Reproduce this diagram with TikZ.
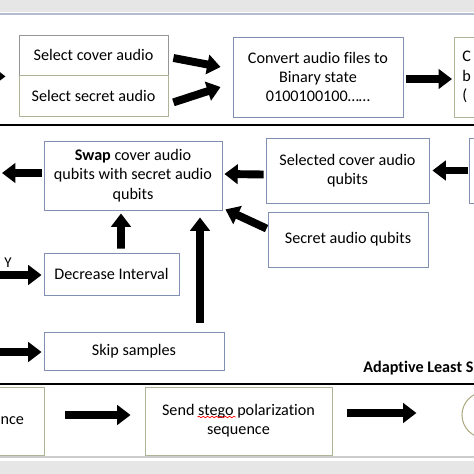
\documentclass[tikz,border=0pt]{standalone}
\usepackage{fontspec}
\setmainfont{Carlito}[Ligatures=NoCommon]
\usepackage{tikz}
\usetikzlibrary{positioning,calc,arrows.meta,decorations.pathmorphing}
\definecolor{bordbleu}{RGB}{128,143,178}
\definecolor{bordvert}{RGB}{172,182,150}
\definecolor{bordgris}{RGB}{150,150,150}
\definecolor{fondgris}{RGB}{230,230,230}
\def\px{0.02cm}
\tikzset{
	boite/.style={draw=bordbleu,line width=0.5pt,inner sep=0pt,align=center,font=\fontsize{9.2}{11}\selectfont},
	sz/.style 2 args={minimum width=#1*\px,minimum height=#2*\px},
	grosse/.style={line width=4.5pt,-{Triangle[length=7.6pt,width=11pt]}}
}

\begin{document}
\begin{tikzpicture}[x=\px,y=-\px]
	\useasboundingbox (0,0) rectangle (474,474);
	\clip (0,0) rectangle (474,474); % on coupe l'image
	
	%Bandes et separations
	\fill[fondgris] (0,0) rectangle (474,12);
	\draw[bordbleu!60,line width=0.6pt] (0,14) -- (474,14);
	\fill[fondgris] (0,461) rectangle (474,474);
	\draw[black!20,line width=0.6pt] (0,457) -- (474,457);
	\draw[line width=1.2pt] (0,125) -- (474,125);
	\draw[line width=1.2pt] (0,384) -- (474,384);
	
	%Boites du haut
	\node[boite,draw=bordgris,sz={149}{40}] (selcov) at (93.5,55) {Select cover audio};
	\node[boite,draw=bordvert,sz={149}{41},below=0pt of selcov] (selsec) {Select secret audio};
	\node[boite,sz={170}{80}] (conv) at (318,77) {Convert audio files to\\Binary state\\0100100100……};
	\node[boite,draw=bordvert,sz={100}{80},text width=1.68cm,inner xsep=0.16cm,align=left,anchor=west] (outtop) at (454,77) {C\\b\\(};
	
	%Boites du milieu
	\node[boite,sz={178}{69}] (swap) at (133,175.5) {\textbf{Swap} cover audio\\qubits with secret audio\\qubits};
	\node[boite,sz={163}{65}] (selq) at (347.5,170.5) {Selected cover audio\\qubits};
	\node[boite,sz={160}{55}] (secq) at (348,239.5) {Secret audio qubits};
	\node[boite,sz={100}{65},anchor=west] (outmid) at (469,170.5) {};
	\node[boite,sz={135}{42}] (decr) at (111.5,274) {Decrease Interval};
	\node[boite,sz={180}{38}] (skip) at (134,351) {Skip samples};
	\node[font=\fontsize{9.2}{11}\selectfont\bfseries,anchor=west,inner sep=0pt] (titre) at (363,368) {Adaptive Least S};
	\node[font=\fontsize{8.5}{10}\selectfont,inner sep=0pt] (lblY) at (8,263) {Y};
	
	%Boites du bas
	\node[boite,draw=bordvert,sz={104}{68},text width=1.28cm,inner xsep=0.4cm,align=right] (seqg) at (-8,421) {nce};
	\node[boite,draw=bordvert,sz={187}{68}] (send) at (238.5,421) {Send stego polarization\\sequence};
	\node[draw=bordvert!80!brown,line width=0.6pt,circle,minimum size=46*\px,inner sep=0pt] (fin) at (485,415) {};
	\draw[red,line width=0.4pt,decorate,decoration={snake,amplitude=0.4pt,segment length=2.5pt}] ($(send.center)+(-41,-4)$) -- ($(send.center)+(-3,-4)$);
	
	%Fleches
	\coordinate (entH) at (-30,76);
	\coordinate (sortG) at (2,173);
	\coordinate (entY) at (-5,275);
	\coordinate (entS) at (-5,352);
	
	\draw[grosse] (entH) -- ($(selcov.south west)+(-13,1)$);
	\draw[grosse] ($(selcov.east)+(5,3)$) -- ($(conv.west)+(-12,-10)$);
	\draw[grosse] ($(selsec.east)+(5,6)$) -- ($(conv.west)+(-12,10)$);
	\draw[grosse] ($(conv.east)+(3,2)$) -- ($(outtop.west)+(-2,2)$);
	
	\draw[grosse] ($(outmid.west)+(-1,0)$) -- ($(selq.east)+(3,0)$);
	\draw[grosse] ($(selq.west)+(-2,4)$) -- ($(swap.east)+(2,-1.5)$);
	\draw[grosse] ($(secq.north west)+(-1,17)$) -- ($(swap.south east)+(3,-1)$);
	\draw[grosse] ($(swap.west)+(-2,-2.5)$) -- (sortG);
	\draw[grosse] ($(decr.north)+(9.5,-4)$) -- ($(swap.south)+(-12,3)$);
	\draw[grosse] ($(skip.north)+(66,-9)$) -- ($(swap.south)+(67,7)$);
	\draw[grosse] (entY) -- ($(decr.west)+(-2,1)$);
	\draw[grosse] (entS) -- ($(skip.west)+(-2,1)$);
	
	\draw[grosse] ($(seqg.east)+(21,-6)$) -- ($(send.west)+(-14,-6)$);
	\draw[grosse] ($(send.east)+(15,-8)$) -- ($(fin.west)+(-45,-2)$);
\end{tikzpicture}
\end{document}
